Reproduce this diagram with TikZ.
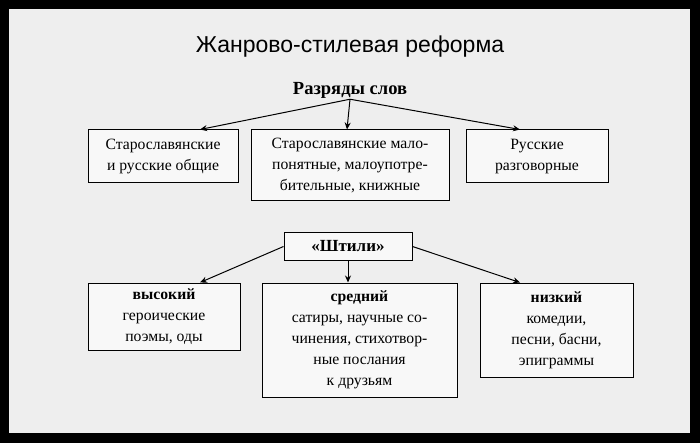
\documentclass[tikz,border=0pt]{standalone}
\usepackage{fontspec}
\setmainfont{Liberation Serif}
\newfontfamily\titlefont{Liberation Sans}
\usetikzlibrary{arrows.meta}
\definecolor{bg}{HTML}{EEEEEE}
\tikzset{x=1pt,y=-1pt,
 box/.style={draw=black,line width=1pt,fill=white!60!bg,align=center,inner sep=0pt,font=\fontsize{15.7}{21}\selectfont},
 arr/.style={-{Stealth[length=7pt,width=6pt]},line width=1pt}}
\begin{document}
\begin{tikzpicture}
\useasboundingbox (0,0) rectangle (700,443);
\fill[black] (0,0) rectangle (700,443);
\fill[bg] (9,9) rectangle (690,433);
\node[font=\titlefont\fontsize{23}{26}\selectfont] (t) at (350,47) {Жанрово-стилевая реформа};
\node[font=\bfseries\fontsize{18.5}{20}\selectfont,inner sep=1pt] (r) at (350,90) {Разряды слов};
\node[box,minimum width=150pt,minimum height=53pt] (b1) at (163,156.5) {Старославянские\\и русские общие};
\node[box,minimum width=198pt,minimum height=71pt] (b2) at (350,165.5) {Старославянские мало-\\понятные, малоупотре-\\бительные, книжные};
\node[box,minimum width=142pt,minimum height=53pt] (b3) at (537,156.5) {Русские\\разговорные};
\node[box,minimum width=128pt,minimum height=27pt,font=\bfseries\fontsize{17}{18}\selectfont] (s) at (348,246.5) {«Штили»};
\node[box,minimum width=152pt,minimum height=67pt] (b4) at (164,316.5) {\textbf{высокий}\\героические\\поэмы, оды};
\node[box,minimum width=195pt,minimum height=114pt] (b5) at (359.5,340) {\textbf{средний}\\сатиры, научные со-\\чинения, стихотвор-\\ные послания\\к друзьям};
\node[box,minimum width=153pt,minimum height=94pt] (b6) at (556.5,330) {\textbf{низкий}\\комедии,\\песни, басни,\\эпиграммы};
\draw[arr] (r.south) -- (b1.north -| 200,0);
\draw[arr] (r.south) -- (b2.north -| 347,0);
\draw[arr] (r.south) -- (b3.north -| 520,0);
\draw[arr] (s.west) -- (b4.north -| 200,0);
\draw[arr] (s.south) -- (b5.north -| 348,0);
\draw[arr] (s.east) -- (b6.north -| 520,0);
\end{tikzpicture}
\end{document}
